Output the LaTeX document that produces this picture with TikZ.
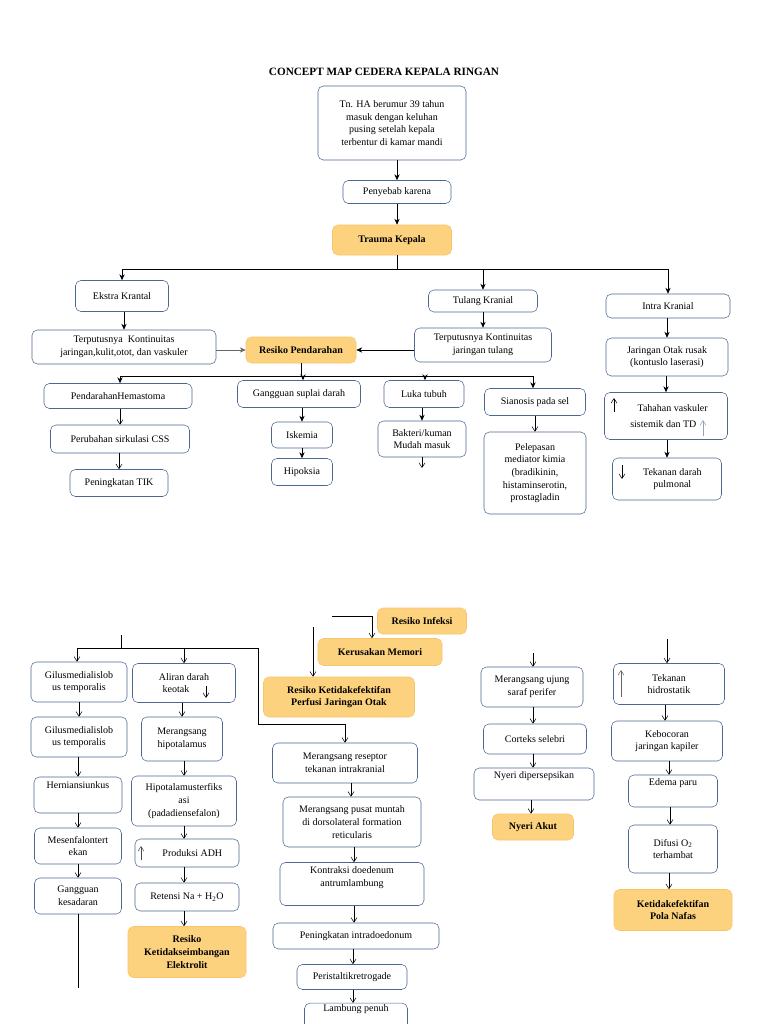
\documentclass[tikz,border=0pt]{standalone}
\usepackage{fontspec}
\setmainfont{Liberation Serif}
\usetikzlibrary{arrows.meta}
\definecolor{bd}{HTML}{4A6890}
\definecolor{orf}{HTML}{FDD27E}
\definecolor{ord}{HTML}{F6C56A}
\begin{document}
\begin{tikzpicture}[x=0.75pt,y=-0.75pt,
  every node/.style={font=\fontsize{7.5}{9.5}\selectfont},
  b/.style={draw=bd, rounded corners=4pt, fill=white, align=center, inner sep=1pt},
  o/.style={draw=ord, rounded corners=4pt, fill=orf, align=center, inner sep=1pt, font=\fontsize{7.5}{9.5}\selectfont\bfseries},
  sz/.style 2 args={minimum width=#1*0.75pt, minimum height=#2*0.75pt},
  ar/.style={-{Straight Barb[length=3.5pt,width=4.5pt]}, thin},
  ab/.style={-{Stealth[length=4.5pt,width=4pt]}, semithick},
  ln/.style={thin}]
\useasboundingbox (0,0) rectangle (768,1024);
\fill[white] (0,0) rectangle (768,1024);
\node[font=\fontsize{8.4}{9}\selectfont\bfseries] (title) at (384,72) {CONCEPT MAP CEDERA KEPALA RINGAN};
% top
\node[b,sz={148}{74}] (n1) at (392,123) {Tn. HA berumur 39 tahun\\masuk dengan keluhan\\pusing setelah kepala\\terbentur di kamar mandi};
\node[b,sz={108}{23}] (n2) at (397,192) {Penyebab karena};
\node[o,sz={119}{30}] (n3) at (392,240) {Trauma Kepala};
\draw[ab] (n1.south -| n2) -- (n2.north);
\draw[ab] (n2.south) -- (n2.south |- n3.north);
\node[b,sz={93}{31}] (ek) at (122,296) {Ekstra Krantal};
\node[b,sz={109}{22}] (tk) at (483,301) {Tulang Kranial};
\node[b,sz={124}{24}] (ik) at (668,306) {Intra Kranial};
\coordinate (j1) at (397,269);
\draw[ln,semithick] (n3.south -| j1) -- (j1);
\draw[ab] (j1) -| (ek.north);
\draw[ab] (j1) -| (tk.north);
\draw[ab] (j1) -| (ik.north);
\node[b,sz={184}{34}] (tp1) at (124,347) {Terputusnya\ \ Kontinuitas\\jaringan,kulit,otot, dan vaskuler};
\node[o,sz={110}{26}] (rp) at (301,350) {Resiko Pendarahan};
\node[b,sz={137}{34}] (tp2) at (483,345) {Terputusnya Kontinuitas\\jaringan tulang};
\node[b,sz={122}{38}] (jo) at (667,357) {Jaringan Otak rusak\\(kontuslo laserasi)};
\draw[ab] (ek.south -| tp1) -- (tp1.north);
\draw[ab] (tk.south) -- (tk.south |- tp2.north);
\draw[ab] (ik.south -| jo) -- (jo.north);
\draw[ab,draw=black!60] (tp1.east |- rp) -- (rp.west);
\draw[ab] (tp2.west |- rp) -- (rp.east);
% branch
\coordinate (j2) at (301,376);
\draw[semithick] (rp.south) -- (j2);
\node[b,sz={148}{25}] (ph) at (118,396) {PendarahanHemastoma};
\node[b,sz={123}{27}] (gs) at (299,394) {Gangguan suplai darah};
\node[b,sz={80}{27}] (lt) at (424,394) {Luka tubuh};
\node[b,sz={101}{27}] (ss) at (535,402) {Sianosis pada sel};
\draw[semithick] (120,376) -- (533,376);
\draw[ab] (120,376) -- (ph.north -| 120,0);
\draw[ab] (303,376) -- (gs.north -| 303,0);
\draw[ab] (425,376) -- (lt.north -| 425,0);
\draw[ab] (533,376) -- (ss.north -| 533,0);
\node[b,sz={139}{28}] (pc) at (120,439) {Perubahan sirkulasi CSS};
\node[b,sz={61}{26}] (is) at (302,435) {Iskemia};
\node[b,sz={88}{36}] (bk) at (422,439) {Bakteri/kuman\\Mudah masuk};
\node[b,sz={102}{82}] (pm) at (535,473) {Pelepasan\\mediator kimia\\(bradikinin,\\histaminserotin,\\prostagladin};
\node[b,sz={98}{27}] (pt) at (119,483) {Peningkatan TIK};
\node[b,sz={61}{27}] (hp) at (302,472) {Hipoksia};
\draw[ar] (ph.south -| pc) -- (pc.north);
\draw[ar] (pc.south -| pt) -- (pt.north);
\draw[ab] (gs.south -| is) -- (is.north);
\draw[ab] (is.south) -- (hp.north);
\draw[ab] (lt.south -| bk) -- (bk.north);
\coordinate (bkx) at (422,468);
\draw[ar] (bk.south) -- (bkx);
\draw[ar] (ss.south) -- (pm.north);
\node[b,sz={123}{47}] (tv) at (666,416) {\hspace*{10pt}Tahahan vaskuler\\[3pt]\hspace*{4pt}sistemik dan TD\hspace*{8pt}};
\node[b,sz={109}{42}] (td) at (667,479) {\hspace*{8pt}Tekanan darah\\\hspace*{8pt}pulmonal};
\draw[ab] (jo.south -| tv) -- (tv.north);
\draw[ab] (tv.south -| td) -- (td.north);
\draw[ar] (614,412) -- (614,398);
\draw[ar,draw=bd!60] (703,436) -- (703,420);
\draw[ar] (622,465) -- (622,479);
% bottom left
\coordinate (k1) at (121,635);
\coordinate (k2) at (121,648);
\coordinate (k3) at (258,648);
\coordinate (k4) at (258,724);
\coordinate (k5) at (345,724);
\draw[ln] (k1) -- (k2);
\draw[ln] (77,648) -- (k3) -- (k4) -- (k5);
\node[b,sz={96}{40}] (g1) at (79,682) {Gilusmedialislob\\us temporalis};
\node[b,sz={96}{40}] (g2) at (79,737) {Gilusmedialislob\\us temporalis};
\node[b,sz={88}{36}] (hn) at (78,795) {Herniansiunkus\\[5pt]};
\node[b,sz={87}{36}] (ms) at (78,846) {Mesenfalontert\\ekan};
\node[b,sz={87}{36}] (gk) at (78,896) {Gangguan\\kesadaran};
\draw[ar] (77,648) -- (g1.north -| 77,0);
\draw[ar] (g1.south) -- (g2.north);
\draw[ar] (g2.south -| hn) -- (hn.north);
\draw[ar] (hn.south) -- (ms.north);
\draw[ar] (ms.south) -- (gk.north);
\coordinate (gke) at (78,988);
\draw[ln] (gk.south) -- (gke);
\node[b,sz={103}{39}] (al) at (184,683) {Aliran darah\\keotak\hspace*{12pt}};
\draw[ar] (206,686) -- (206,698);
\node[b,sz={81}{44}] (mh) at (182,739) {Merangsang\\hipotalamus};
\node[b,sz={105}{50}] (hf) at (184,801) {Hipotalamusterfiks\\asi\\(padadiensefalon)};
\node[b,sz={104}{28}] (pa) at (187,853) {\hspace*{8pt}Produksi ADH};
\draw[ar,draw=black!70] (141,860) -- (141,846);
\node[b,sz={104}{28}] (rn) at (187,897) {Retensi Na + H\textsubscript{2}O};
\node[o,sz={118}{51}] (rk) at (187,952) {Resiko\\Ketidakseimbangan\\Elektrolit};
\draw[ar] (184,648) -- (al.north);
\draw[ar] (al.south -| mh) -- (mh.north);
\draw[ar] (mh.south -| hf) -- (hf.north);
\draw[ar] (hf.south -| 184,0) -- (pa.north -| 184,0);
\draw[ar] (pa.south -| 184,0) -- (rn.north -| 184,0);
\draw[ar] (rn.south -| 184,0) -- (rk.north -| 184,0);
% middle orange
\node[o,sz={89}{26}] (ri) at (422,621) {Resiko Infeksi};
\node[o,sz={124}{27}] (km) at (380,652) {Kerusakan Memori};
\node[o,sz={151}{40}] (rkp) at (339,697) {Resiko Ketidakefektifan\\Perfusi Jaringan Otak};
\coordinate (m1) at (332,616);
\draw[ar] (m1) -- (372,616) -- (km.north -| 372,0);
\coordinate (m2) at (313,627);
\draw[ar] (m2) -- (rkp.north -| 313,0);
% middle column
\node[b,sz={145}{40}] (mr) at (345,763) {Merangsang reseptor\\tekanan intrakranial};
\node[b,sz={138}{50}] (mp) at (352,822) {Merangsang pusat muntah\\di dorsolateral formation\\reticularis};
\node[b,sz={144}{43}] (kd) at (352,884) {Kontraksi doedenum\\antrumlambung\\[2pt]};
\node[b,sz={166}{26}] (pi) at (356,936) {Peningkatan intradoedonum};
\node[b,sz={110}{25}] (pr) at (352,977) {Peristaltikretrogade};
\node[b,sz={103}{26}] (lp) at (356,1017) {Lambung penuh\\[4pt]};
\draw[ar] (k5) -- (mr.north -| k5);
\draw[ar] (mr.south -| 351,0) -- (mp.north -| 351,0);
\draw[ar] (mp.south -| 354,0) -- (kd.north -| 354,0);
\draw[ar] (kd.south -| 354,0) -- (pi.north -| 354,0);
\draw[ar] (pi.south -| 353,0) -- (pr.north -| 353,0);
\draw[ar] (pr.south -| 353,0) -- (lp.north -| 353,0);
% right columns
\coordinate (r1) at (533,653);
\node[b,sz={102}{40}] (mu) at (532,687) {Merangsang ujung\\saraf perifer};
\node[b,sz={103}{30}] (cs) at (535,739) {Corteks selebri};
\node[b,sz={120}{32}] (nd) at (534,784) {Nyeri dipersepsikan\\[4pt]};
\node[o,sz={81}{26}] (na) at (533,827) {Nyeri Akut};
\draw[ar] (r1) -- (mu.north -| r1);
\draw[ar] (mu.south -| 533,0) -- (cs.north -| 533,0);
\draw[ar] (cs.south -| 533,0) -- (nd.north -| 533,0);
\draw[ar] (nd.south -| 531,0) -- (na.north -| 531,0);
\coordinate (r2) at (667,639);
\node[b,sz={111}{41}] (th) at (669,684) {Tekanan\\hidrostatik};
\draw[ar,draw=black!60] (621,697) -- (621,670);
\node[b,sz={111}{40}] (kb) at (667,741) {Kebocoran\\jaringan kapiler};
\node[b,sz={89}{32}] (ep) at (673,791) {Edema paru\\[4pt]};
\node[b,sz={89}{48}] (df) at (673,849) {Difusi O\textsubscript{2}\\terhambat};
\node[o,sz={118}{41}] (kp) at (673,910) {Ketidakefektifan\\Pola Nafas};
\draw[ar] (r2) -- (th.north -| r2);
\draw[ar] (th.south -| 665,0) -- (kb.north -| 665,0);
\draw[ar] (kb.south -| 669,0) -- (ep.north -| 669,0);
\draw[ar] (ep.south -| 670,0) -- (df.north -| 670,0);
\draw[ar] (df.south -| 669,0) -- (kp.north -| 669,0);
\end{tikzpicture}
\end{document}
